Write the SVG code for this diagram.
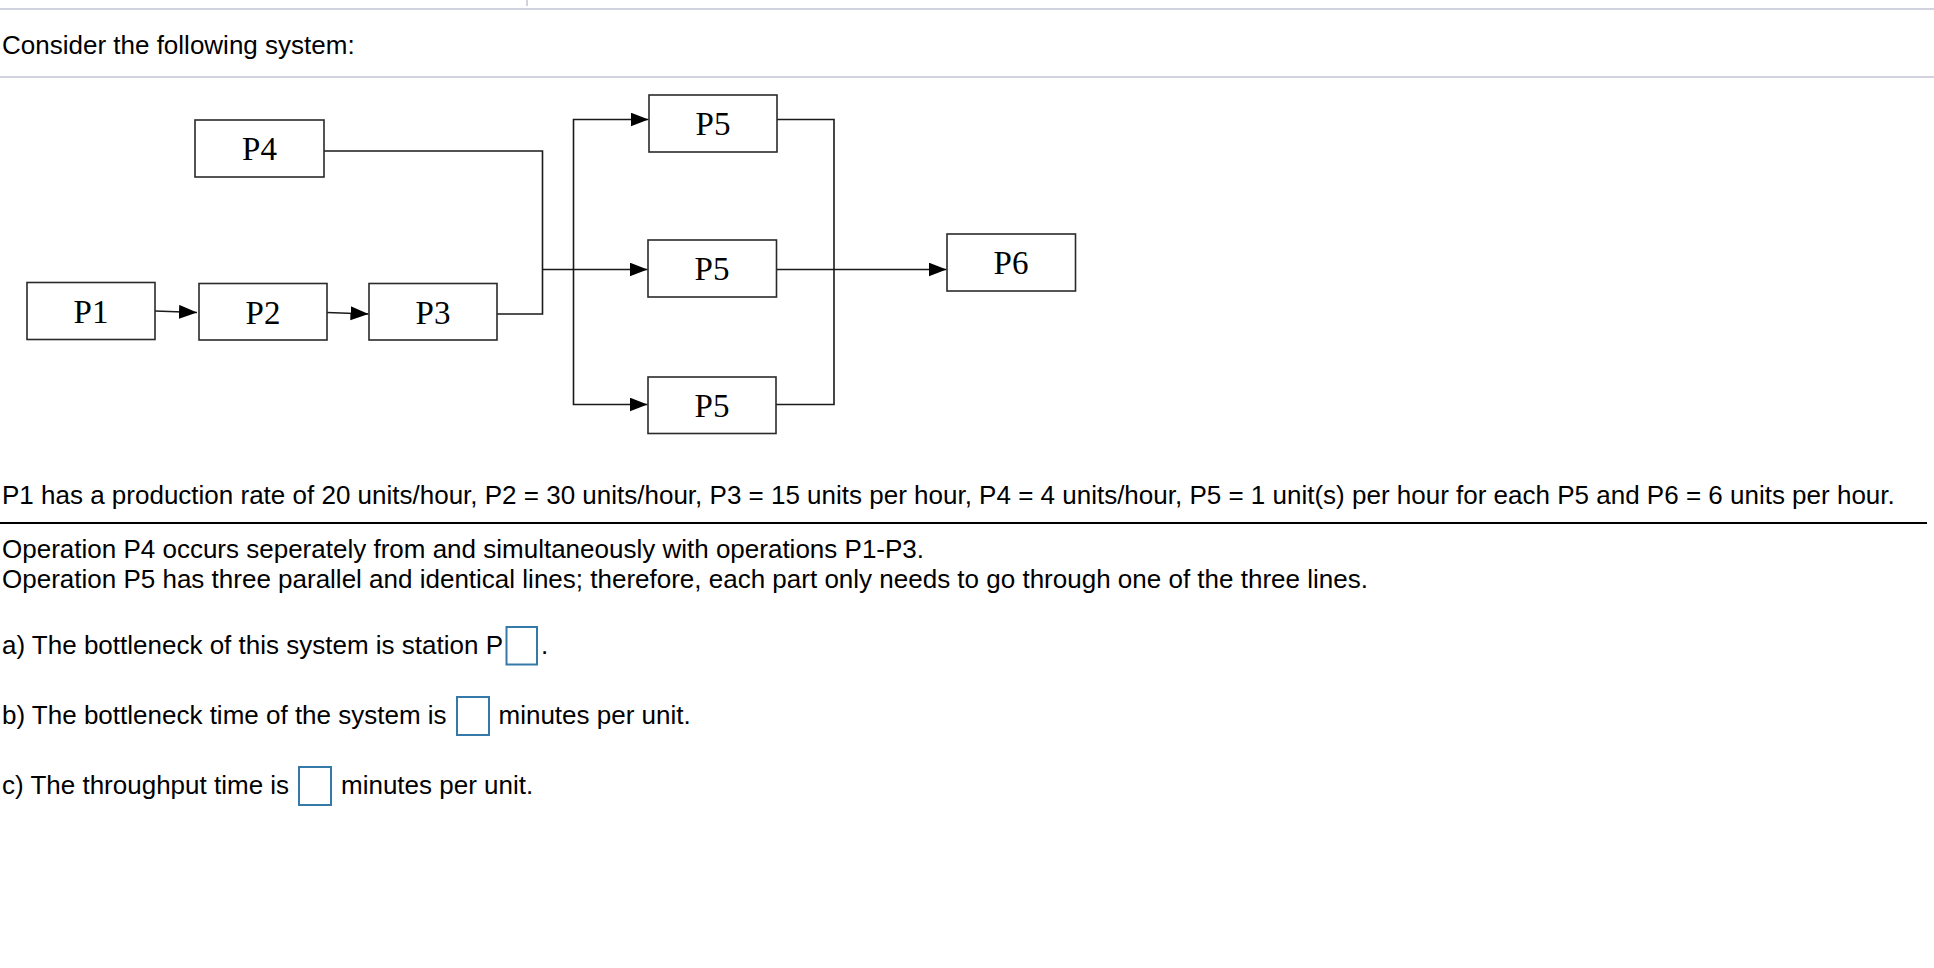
<svg xmlns="http://www.w3.org/2000/svg" width="1934" height="968" viewBox="0 0 1934 968">
<style>
.txt{font-family:"Liberation Sans",Arial,sans-serif;font-size:26px;fill:#000}
.box{fill:#fff;stroke:#2a2a2a;stroke-width:1.6}
.lbl{font-family:"Liberation Serif","Times New Roman",serif;font-size:33px;fill:#000;text-anchor:middle}
.wire{fill:none;stroke:#1a1a1a;stroke-width:1.6}
.ans{fill:#fff;stroke:#3579a8;stroke-width:2}
.sep{stroke:#d0d3df;stroke-width:2}
</style>
<defs>
<marker id="arr" markerUnits="userSpaceOnUse" markerWidth="19" markerHeight="15" refX="18" refY="7" orient="auto" viewBox="0 0 19 15">
<path d="M0,0 L18,7 L0,14 z" fill="#000"/>
</marker>
</defs>
<rect width="1934" height="968" fill="#fff"/>
<g id="header">
<line class="sep" x1="0" y1="9" x2="1934" y2="9"/>
<line class="sep" x1="527" y1="0" x2="527" y2="6"/>
<text class="txt" x="2" y="54">Consider the following system:</text>
<line class="sep" x1="0" y1="77" x2="1934" y2="77"/>
</g>
<g id="connectors">
<path class="wire" d="M155,311 L197,312.5" marker-end="url(#arr)"/>
<path class="wire" d="M327,312.5 L368.5,314" marker-end="url(#arr)"/>
<path class="wire" d="M324,151 H542.5 V314 H497"/>
<path class="wire" d="M542.5,269.5 H647.5" marker-end="url(#arr)"/>
<path class="wire" d="M573.5,269.5 V119.5 H648.5" marker-end="url(#arr)"/>
<path class="wire" d="M573.5,269.5 V404.5 H647.5" marker-end="url(#arr)"/>
<path class="wire" d="M777,119.5 H834 V404.5 H776"/>
<path class="wire" d="M776,269.5 H946.5" marker-end="url(#arr)"/>
</g>
<g id="P4"><rect class="box" x="195" y="120" width="129" height="57"/><text class="lbl" x="259.5" y="160">P4</text></g>
<g id="P1"><rect class="box" x="27" y="282.5" width="128" height="57"/><text class="lbl" x="91" y="322.5">P1</text></g>
<g id="P2"><rect class="box" x="199" y="283.5" width="128" height="56.5"/><text class="lbl" x="263" y="323.5">P2</text></g>
<g id="P3"><rect class="box" x="369" y="283.5" width="128" height="56.5"/><text class="lbl" x="433" y="323.5">P3</text></g>
<g id="P5a"><rect class="box" x="649" y="95" width="128" height="57"/><text class="lbl" x="713" y="135">P5</text></g>
<g id="P5b"><rect class="box" x="648" y="240" width="128.5" height="57"/><text class="lbl" x="712" y="280">P5</text></g>
<g id="P5c"><rect class="box" x="648" y="377" width="128" height="56.5"/><text class="lbl" x="712" y="417">P5</text></g>
<g id="P6"><rect class="box" x="947" y="234" width="128.5" height="57"/><text class="lbl" x="1011" y="274">P6</text></g>
<g id="description">
<text class="txt" x="2" y="504">P1 has a production rate of 20 units/hour, P2 = 30 units/hour, P3 = 15 units per hour, P4 = 4 units/hour, P5 = 1 unit(s) per hour for each P5 and P6 = 6 units per hour.</text>
<line x1="0" y1="523" x2="1927" y2="523" stroke="#000" stroke-width="2"/>
<text class="txt" x="2" y="558">Operation P4 occurs seperately from and simultaneously with operations P1-P3.</text>
<text class="txt" x="2" y="588">Operation P5 has three parallel and identical lines; therefore, each part only needs to go through one of the three lines.</text>
</g>
<g id="questions">
<text class="txt" x="2" y="654">a) The bottleneck of this system is station P</text>
<rect class="ans" x="506.5" y="627" width="30.5" height="37.5"/>
<text class="txt" x="541" y="654">.</text>
<text class="txt" x="2" y="724">b) The bottleneck time of the system is</text>
<rect class="ans" x="457" y="697" width="32" height="38"/>
<text class="txt" x="498.5" y="724">minutes per unit.</text>
<text class="txt" x="2" y="794">c) The throughput time is</text>
<rect class="ans" x="299" y="767" width="32" height="38"/>
<text class="txt" x="341" y="794">minutes per unit.</text>
</g>
</svg>
